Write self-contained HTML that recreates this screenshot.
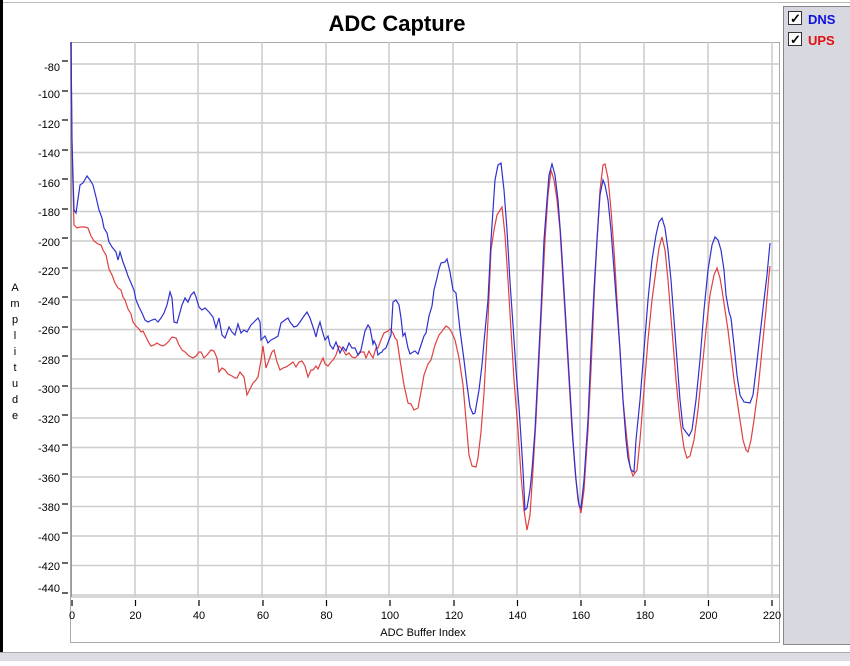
<!DOCTYPE html>
<html><head><meta charset="utf-8"><style>
body{margin:0;width:850px;height:661px;overflow:hidden;background:#fff;font-family:"Liberation Sans",Arial,sans-serif}
</style></head><body>
<svg width="850" height="661" viewBox="0 0 850 661" xmlns="http://www.w3.org/2000/svg" font-family="Liberation Sans, Arial, sans-serif">
<rect x="0" y="0" width="850" height="661" fill="#fff"/>
<rect x="0" y="0" width="3" height="661" fill="#000"/>
<line x1="3" y1="2.5" x2="850" y2="2.5" stroke="#bbb"/>
<rect x="0" y="652" width="850" height="9" fill="#dcdce4"/>
<line x1="0" y1="652.5" x2="850" y2="652.5" stroke="#aaa"/>
<!-- legend panel -->
<rect x="783.5" y="6.5" width="70" height="638" fill="#d8d8e0" stroke="#888"/>
<rect x="788.5" y="11.5" width="13" height="13" fill="#fff" stroke="#333"/>
<text x="790" y="23" font-size="13" font-weight="bold">✓</text>
<text x="808" y="24" font-size="13" font-weight="bold" fill="#1010e0">DNS</text>
<rect x="788.5" y="32.5" width="13" height="13" fill="#fff" stroke="#333"/>
<text x="790" y="44" font-size="13" font-weight="bold">✓</text>
<text x="808" y="45" font-size="13" font-weight="bold" fill="#e01010">UPS</text>
<text x="397" y="31" font-size="22" font-weight="bold" text-anchor="middle">ADC Capture</text>
<!-- frame -->
<rect x="70.5" y="42.5" width="709" height="600" fill="none" stroke="#aaa"/>
<g stroke="#ccc" stroke-width="1.5">
<line x1="135" y1="42" x2="135" y2="597"/><line x1="198" y1="42" x2="198" y2="597"/><line x1="262" y1="42" x2="262" y2="597"/><line x1="326" y1="42" x2="326" y2="597"/><line x1="389" y1="42" x2="389" y2="597"/><line x1="453" y1="42" x2="453" y2="597"/><line x1="517" y1="42" x2="517" y2="597"/><line x1="580" y1="42" x2="580" y2="597"/><line x1="644" y1="42" x2="644" y2="597"/><line x1="708" y1="42" x2="708" y2="597"/><line x1="772" y1="42" x2="772" y2="597"/>
<line x1="71" y1="64" x2="779" y2="64"/><line x1="71" y1="93.5" x2="779" y2="93.5"/><line x1="71" y1="123" x2="779" y2="123"/><line x1="71" y1="152.5" x2="779" y2="152.5"/><line x1="71" y1="182" x2="779" y2="182"/><line x1="71" y1="211.5" x2="779" y2="211.5"/><line x1="71" y1="241" x2="779" y2="241"/><line x1="71" y1="270.5" x2="779" y2="270.5"/><line x1="71" y1="300" x2="779" y2="300"/><line x1="71" y1="329.5" x2="779" y2="329.5"/><line x1="71" y1="359" x2="779" y2="359"/><line x1="71" y1="388.5" x2="779" y2="388.5"/><line x1="71" y1="418" x2="779" y2="418"/><line x1="71" y1="447.5" x2="779" y2="447.5"/><line x1="71" y1="477" x2="779" y2="477"/><line x1="71" y1="506.5" x2="779" y2="506.5"/><line x1="71" y1="536" x2="779" y2="536"/><line x1="71" y1="565.5" x2="779" y2="565.5"/><line x1="71" y1="595" x2="779" y2="595"/>
</g>
<line x1="71" y1="597" x2="779" y2="597" stroke="#ccc" stroke-width="1.5"/>
<line x1="71.5" y1="42" x2="71.5" y2="597" stroke="#999"/>
<g stroke="#000" stroke-width="1.2">
<line x1="62" y1="61" x2="68" y2="61"/><line x1="62" y1="91" x2="68" y2="91"/><line x1="62" y1="120" x2="68" y2="120"/><line x1="62" y1="150" x2="68" y2="150"/><line x1="62" y1="179" x2="68" y2="179"/><line x1="62" y1="209" x2="68" y2="209"/><line x1="62" y1="238" x2="68" y2="238"/><line x1="62" y1="268" x2="68" y2="268"/><line x1="62" y1="297" x2="68" y2="297"/><line x1="62" y1="327" x2="68" y2="327"/><line x1="62" y1="356" x2="68" y2="356"/><line x1="62" y1="386" x2="68" y2="386"/><line x1="62" y1="415" x2="68" y2="415"/><line x1="62" y1="445" x2="68" y2="445"/><line x1="62" y1="474" x2="68" y2="474"/><line x1="62" y1="504" x2="68" y2="504"/><line x1="62" y1="533" x2="68" y2="533"/><line x1="62" y1="563" x2="68" y2="563"/><line x1="62" y1="593" x2="68" y2="593"/>
<line x1="72" y1="600" x2="72" y2="606"/><line x1="135.5" y1="600" x2="135.5" y2="606"/><line x1="199" y1="600" x2="199" y2="606"/><line x1="263" y1="600" x2="263" y2="606"/><line x1="326.5" y1="600" x2="326.5" y2="606"/><line x1="390" y1="600" x2="390" y2="606"/><line x1="454" y1="600" x2="454" y2="606"/><line x1="517.5" y1="600" x2="517.5" y2="606"/><line x1="581" y1="600" x2="581" y2="606"/><line x1="645" y1="600" x2="645" y2="606"/><line x1="708.5" y1="600" x2="708.5" y2="606"/><line x1="772" y1="600" x2="772" y2="606"/>
</g>
<g font-size="11" text-anchor="end" fill="#000">
<text x="60" y="71">-80</text><text x="60" y="98">-100</text><text x="60" y="128">-120</text><text x="60" y="157">-140</text><text x="60" y="187">-160</text><text x="60" y="216">-180</text><text x="60" y="246">-200</text><text x="60" y="275">-220</text><text x="60" y="305">-240</text><text x="60" y="334">-260</text><text x="60" y="364">-280</text><text x="60" y="393">-300</text><text x="60" y="423">-320</text><text x="60" y="452">-340</text><text x="60" y="482">-360</text><text x="60" y="511">-380</text><text x="60" y="541">-400</text><text x="60" y="570">-420</text><text x="60" y="592">-440</text>
</g>
<g font-size="11" text-anchor="middle">
<text x="72" y="619">0</text><text x="135.5" y="619">20</text><text x="199" y="619">40</text><text x="263" y="619">60</text><text x="326.5" y="619">80</text><text x="390" y="619">100</text><text x="454" y="619">120</text><text x="517.5" y="619">140</text><text x="581" y="619">160</text><text x="645" y="619">180</text><text x="708.5" y="619">200</text><text x="772" y="619">220</text>
<text x="423" y="636">ADC Buffer Index</text>
<text x="15" y="291">A</text><text x="15" y="307">m</text><text x="15" y="323">p</text><text x="15" y="339">l</text><text x="15" y="355">i</text><text x="15" y="371">t</text><text x="15" y="387">u</text><text x="15" y="403">d</text><text x="15" y="419">e</text>
</g>
<polyline fill="none" stroke="#e04040" stroke-width="1.2" points="71,42 72,150 74,225 77,228 80,227 85,227 88,228 91,236 94,241 98,244 101,245 103,250 106,255 109,269 112,275 115,283 118,288 121,290 123,297 125,300 128,309 131,314 133,322 136,326 139,329 141,332 143,331 146,337 149,343 151,346 154,345 157,343 160,345 163,346 166,344 169,341 172,337 176,338 179,345 182,350 185,352 189,356 193,358 196,356 199,352 201,352 204,358 207,355 211,350 214,351 217,358 219,372 222,368 225,370 228,374 232,376 235,378 237,378 240,372 244,377 247,395 250,389 253,383 256,380 258,377 261,360 263,346 266,368 269,360 272,352 274,350 277,362 280,370 283,368 286,367 289,365 293,362 296,367 299,362 302,361 305,366 308,377 311,370 313,370 316,366 318,369 321,362 323,358 325,364 328,366 331,362 333,360 336,355 339,346 343,350 346,355 349,353 352,357 355,358 358,355 361,352 364,352 366,358 369,351 371,355 373,358 376,348 378,348 381,340 384,333 388,331 390,329 393,333 395,338 397,340 400,360 404,385 408,403 411,404 414,410 418,408 421,392 424,375 428,364 431,360 435,345 439,335 443,330 446,326 449,328 452,333 455,340 459,358 463,385 466,420 469,455 472,466 476,467 478,458 481,432 484,393 488,320 491,250 494,230 497,215 502,207 505,235 508,280 511,330 514,380 518,430 521,475 524,510 527,530 530,515 533,470 536,420 539,360 542,300 545,240 548,195 551,170 554,180 557,200 560,230 563,280 566,330 569,380 572,430 575,470 578,500 581,513 584,490 588,430 591,370 594,300 597,240 600,190 603,165 605,164 608,178 611,210 614,250 617,300 620,350 623,400 627,440 630,467 633,476 637,470 640,440 644,390 648,340 652,300 656,270 659,248 662,237 665,250 668,280 672,330 676,380 680,420 684,448 687,458 690,456 694,440 698,410 702,370 706,330 710,295 714,275 717,268 720,278 722,290 725,310 728,330 731,355 734,380 737,400 740,420 743,440 746,450 748,452 751,440 754,420 758,390 762,350 766,310 769,275 770,266"/>
<polyline fill="none" stroke="#3030d0" stroke-width="1.2" points="71,42 72,140 74,210 76,213 80,185 83,183 87,176 90,180 93,185 96,197 99,210 102,218 104,228 107,233 109,242 112,247 116,252 118,260 120,252 123,262 126,270 128,276 131,283 134,290 136,300 139,307 142,313 145,320 148,322 152,320 155,319 158,322 161,318 164,313 167,305 170,292 172,298 174,322 177,323 182,305 185,298 188,302 191,295 194,292 196,297 199,307 202,310 205,308 209,312 213,317 216,328 219,318 222,335 225,338 229,327 232,332 235,335 238,324 241,333 244,330 247,332 251,325 254,322 258,318 260,322 261,340 265,336 268,343 271,340 275,338 278,336 281,323 285,320 288,318 290,322 294,327 297,326 300,322 304,316 307,312 310,318 314,330 316,337 318,328 320,322 322,330 325,340 328,336 330,345 333,349 336,342 340,353 343,347 346,351 349,343 352,348 355,348 358,355 361,350 365,331 368,325 370,328 373,344 374,341 376,345 378,355 380,353 382,352 383,350 386,348 389,340 391,335 393,302 396,300 399,305 401,318 403,336 405,333 408,348 410,354 413,352 415,351 418,354 421,345 424,336 426,333 429,316 432,306 434,290 437,278 439,269 441,263 445,262 447,259 450,272 453,290 456,293 460,330 464,360 467,385 470,407 473,414 475,413 479,390 482,365 484,342 488,300 491,240 495,180 498,165 501,163 504,190 507,230 510,282 513,325 516,370 519,407 521,438 523,470 525,510 527,508 530,490 532,470 535,430 538,370 541,310 544,240 547,200 549,175 552,164 555,175 558,200 561,240 564,290 567,340 570,390 573,440 576,480 579,505 581,508 584,480 588,420 591,350 594,290 597,240 600,195 603,180 605,185 608,200 611,230 614,270 617,310 620,350 623,400 626,440 628,458 631,470 634,472 636,440 640,400 644,350 648,300 652,260 656,235 659,222 662,218 665,228 668,250 671,280 674,320 677,360 680,400 683,428 686,432 689,436 692,430 696,400 700,360 704,310 708,270 712,245 715,237 718,240 721,250 724,270 726,295 729,312 731,318 734,345 737,375 740,395 744,402 750,403 753,395 756,370 760,335 764,300 767,275 770,243"/>
</svg>
</body></html>
